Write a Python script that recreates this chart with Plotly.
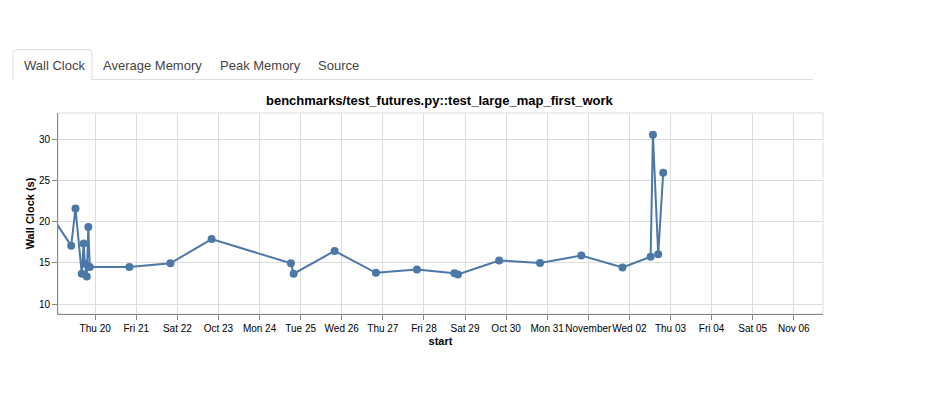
import plotly.graph_objects as go

# ---- data ----
start = [
    "2022-10-18 20:00", "2022-10-19 10:00", "2022-10-19 12:30", "2022-10-19 16:10",
    "2022-10-19 17:15", "2022-10-19 18:00", "2022-10-19 19:05", "2022-10-19 20:00",
    "2022-10-19 20:50", "2022-10-20 20:00", "2022-10-21 19:55", "2022-10-22 20:00",
    "2022-10-24 18:20", "2022-10-24 19:55", "2022-10-25 19:50", "2022-10-26 19:58",
    "2022-10-27 19:55", "2022-10-28 17:50", "2022-10-28 19:50", "2022-10-29 19:55",
    "2022-10-30 19:50", "2022-10-31 19:57", "2022-11-01 20:00", "2022-11-02 12:25",
    "2022-11-02 13:45", "2022-11-02 16:50", "2022-11-02 19:45",
]
wall_clock = [
    21.45, 17.1, 21.6, 13.7,
    17.35, 14.9, 13.35, 19.35,
    14.5, 14.5, 14.95, 17.9,
    14.95, 13.7, 16.45, 13.8,
    14.2, 13.75, 13.6, 15.3,
    15.0, 15.9, 14.45, 15.75,
    30.55, 16.05, 25.95,
]
tick_dates = [
    "2022-10-20", "2022-10-21", "2022-10-22", "2022-10-23", "2022-10-24", "2022-10-25",
    "2022-10-26", "2022-10-27", "2022-10-28", "2022-10-29", "2022-10-30", "2022-10-31",
    "2022-11-01", "2022-11-02", "2022-11-03", "2022-11-04", "2022-11-05", "2022-11-06",
]
tick_labels = [
    "Thu 20", "Fri 21", "Sat 22", "Oct 23", "Mon 24", "Tue 25",
    "Wed 26", "Thu 27", "Fri 28", "Sat 29", "Oct 30", "Mon 31",
    "November", "Wed 02", "Thu 03", "Fri 04", "Sat 05", "Nov 06",
]
tabs = ["Wall Clock", "Average Memory", "Peak Memory", "Source"]
title = "benchmarks/test_futures.py::test_large_map_first_work"

# ---- layout geometry (pixels) ----
W, H = 944, 396
ML, MR, MT, MB = 58, 121, 113, 82
PW, PH = W - ML - MR, H - MT - MB
FONT = "Liberation Sans, Arial, Helvetica, sans-serif"
BLUE = "#4c78a8"


def px(x):
    return (x - ML) / PW


def py(y):
    return (H - MB - y) / PH


fig = go.Figure()
fig.add_trace(go.Scatter(
    x=start, y=wall_clock, mode="lines+markers",
    line=dict(color=BLUE, width=2),
    marker=dict(color=BLUE, size=8),
    cliponaxis=True, showlegend=False,
))

axis_common = dict(
    showgrid=True, gridcolor="#dddddd", gridwidth=1,
    showline=True, linecolor="#888888", linewidth=1,
    ticks="outside", ticklen=5, tickcolor="#888888",
    tickfont=dict(family=FONT, size=10, color="#000000"),
    zeroline=False, mirror=False,
)

fig.update_layout(
    width=W, height=H, autosize=False,
    margin=dict(l=ML, r=MR, t=MT, b=MB, pad=0),
    paper_bgcolor="white", plot_bgcolor="white",
    font=dict(family=FONT, color="#000"),
    xaxis=dict(
        axis_common,
        type="date",
        range=["2022-10-19 02:17", "2022-11-06 17:05"],
        tickmode="array", tickvals=tick_dates, ticktext=tick_labels,
        tickangle=0,
        title=dict(text="<b>start</b>", font=dict(family=FONT, size=11), standoff=4),
    ),
    yaxis=dict(
        axis_common,
        range=[8.8, 33.2],
        tickmode="array", tickvals=[10, 15, 20, 25, 30],
        title=dict(text="<b>Wall Clock (s)</b>", font=dict(family=FONT, size=11), standoff=2),
    ),
)

shapes = []
# plot frame (light)
shapes.append(dict(type="rect", xref="paper", yref="paper", x0=0, x1=1, y0=0, y1=1,
                   line=dict(color="#dddddd", width=1), fillcolor="rgba(0,0,0,0)", layer="below"))
# tab baseline
shapes.append(dict(type="line", xref="paper", yref="paper",
                   x0=px(13), x1=px(813), y0=py(79.5), y1=py(79.5),
                   line=dict(color="#dddddd", width=1)))
# active tab outline
x0, x1, yt, yb, r = 13, 92, 49.5, 79.5, 4
path = (f"M {px(x0)},{py(yb)} L {px(x0)},{py(yt + r)} "
        f"Q {px(x0)},{py(yt)} {px(x0 + r)},{py(yt)} "
        f"L {px(x1 - r)},{py(yt)} Q {px(x1)},{py(yt)} {px(x1)},{py(yt + r)} "
        f"L {px(x1)},{py(yb)}")
shapes.append(dict(type="rect", xref="paper", yref="paper",
                   x0=px(x0 + 0.5), x1=px(x1 - 0.5), y0=py(yb + 0.5), y1=py(yt + 1),
                   line=dict(width=0), fillcolor="white"))
shapes.append(dict(type="path", xref="paper", yref="paper", path=path,
                   line=dict(color="#dddddd", width=1)))
fig.update_layout(shapes=shapes)

tab_x = [22, 101, 218, 316]
annotations = []
for name, tx in zip(tabs, tab_x):
    annotations.append(dict(
        text=name, x=px(tx), y=py(65), xref="paper", yref="paper",
        xanchor="left", yanchor="middle", showarrow=False,
        font=dict(family=FONT, size=13, color="#444444"),
    ))
annotations.append(dict(
    text=f"<b>{title}</b>", x=px(440), y=py(100), xref="paper", yref="paper",
    xanchor="center", yanchor="middle", showarrow=False,
    font=dict(family=FONT, size=13, color="#000000"),
))
fig.update_layout(annotations=annotations)

fig.write_html("out.html", config={"displayModeBar": False},
               post_script="document.body.style.margin='0';")
